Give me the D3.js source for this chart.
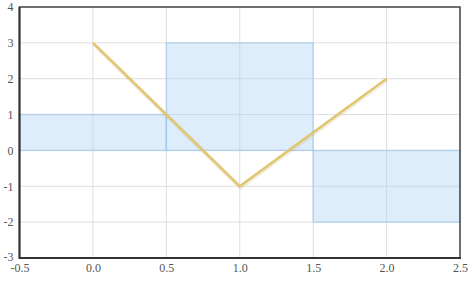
<!DOCTYPE html>
<html><head><meta charset="utf-8">
<script src="https://cdn.jsdelivr.net/npm/d3@7"></script>
<style>body{margin:0;background:#fff;}svg{display:block;}</style>
</head><body>
<svg id="c" width="474" height="282"></svg>
<script>
const barX = [0, 1, 2];
const barValues = [1, 3, -2];
const lineX = [0, 1, 2];
const lineValues = [3, -1, 2];
const xTicks = [-0.5, 0, 0.5, 1, 1.5, 2, 2.5];
const yTicks = [-3, -2, -1, 0, 1, 2, 3, 4];

const svg = d3.select("#c");
const m = {l: 19.5, r: 460, t: 7, b: 258};
const x = d3.scaleLinear().domain([-0.5, 2.5]).range([m.l, m.r]);
const y = d3.scaleLinear().domain([-3, 4]).range([m.b, m.t]);
const hy = s => s.replace("\u2212", "-");

// grid
svg.append("g").selectAll("line").data(xTicks).join("line")
  .attr("x1", d => x(d)).attr("x2", d => x(d)).attr("y1", m.t).attr("y2", m.b)
  .attr("stroke", "#dedede").attr("stroke-width", 1);
svg.append("g").selectAll("line").data(yTicks).join("line")
  .attr("y1", d => y(d)).attr("y2", d => y(d)).attr("x1", m.l).attr("x2", m.r)
  .attr("stroke", "#dedede").attr("stroke-width", 1);

// bars
svg.append("g").selectAll("rect").data(barX).join("rect")
  .attr("x", (d) => x(d - 0.5))
  .attr("width", (d) => x(d + 0.5) - x(d - 0.5))
  .attr("y", (d, i) => y(Math.max(0, barValues[i])))
  .attr("height", (d, i) => Math.abs(y(barValues[i]) - y(0)))
  .attr("fill", "rgba(173,211,245,0.42)")
  .attr("stroke", "rgba(140,190,230,0.45)").attr("stroke-width", 1.5);

// line
const pts = lineX.map((d, i) => [d, lineValues[i]]);
const lg = d3.line().x(d => x(d[0])).y(d => y(d[1]));
svg.append("path").datum(pts).attr("d", lg).attr("fill", "none")
  .attr("stroke", "rgba(180,160,100,0.18)").attr("stroke-width", 4.5)
  .attr("transform", "translate(0.5,1)");
svg.append("path").datum(pts).attr("d", lg).attr("fill", "none")
  .attr("stroke", "#e2c66e").attr("stroke-width", 2.5);

// frame
svg.append("rect").attr("x", m.l).attr("y", m.t).attr("width", m.r - m.l).attr("height", m.b - m.t)
  .attr("fill", "none").attr("stroke", "#444").attr("stroke-width", 1.5);
svg.append("line").attr("x1", m.l).attr("x2", m.l).attr("y1", m.t).attr("y2", m.b + 1)
  .attr("stroke", "#333").attr("stroke-width", 2);
svg.append("line").attr("x1", m.l).attr("x2", m.r + 1).attr("y1", m.b).attr("y2", m.b)
  .attr("stroke", "#333").attr("stroke-width", 2);

// axes labels via d3 axes
const yAxis = d3.axisLeft(y).tickValues(yTicks).tickSize(0).tickPadding(6).tickFormat(d => hy(d3.format("d")(d)));
const gy = svg.append("g").attr("transform", `translate(${m.l},0)`).call(yAxis);
gy.select(".domain").remove();
gy.selectAll(".tick").filter(d => d === -3).select("text").attr("dy", "0.2em");
const xAxis = d3.axisBottom(x).tickValues(xTicks).tickSize(0).tickPadding(4).tickFormat(d => hy(d3.format(".1f")(d)));
const gx = svg.append("g").attr("transform", `translate(0,${m.b})`).call(xAxis);
gx.select(".domain").remove();
gx.selectAll(".tick text").attr("dy", "0.85em");
svg.selectAll(".tick text")
  .style("font-family", "'Liberation Serif', serif").style("font-size", "12px").style("fill", "#555");
</script>
</body></html>
